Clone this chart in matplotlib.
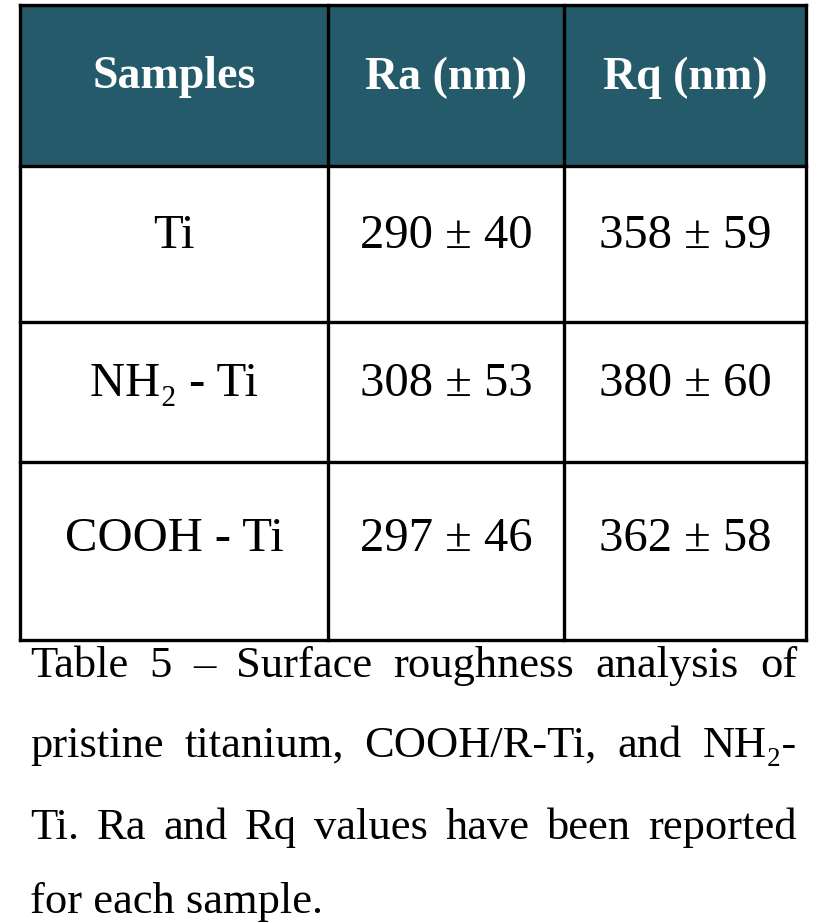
import matplotlib
matplotlib.use("Agg")
import matplotlib.pyplot as plt
from matplotlib.patches import Rectangle

# --- data -----------------------------------------------------------------
headers = ["Samples", "Ra (nm)", "Rq (nm)"]
samples = ["Ti", "NH\u2082 - Ti", "COOH - Ti"]
ra = [290, 308, 297]
ra_err = [40, 53, 46]
rq = [358, 380, 362]
rq_err = [59, 60, 58]
caption = [
    "Table 5 \u2013 Surface roughness analysis of",
    "pristine titanium, COOH/R-Ti,  and NH\u2082-",
    "Ti.  Ra and Rq values have been reported",
    "for each sample.",
]

# --- layout (pixel coords) ------------------------------------------------
W, H = 821, 923
HEAD_BG = "#245a69"
FONT = ["Liberation Serif", "DejaVu Serif"]
col_x = [20, 328, 564, 806]
row_y = [5, 166, 322, 462, 640]

fig = plt.figure(figsize=(W / 100, H / 100), dpi=100)
ax = fig.add_axes([0, 0, 1, 1])
ax.set_xlim(0, W)
ax.set_ylim(H, 0)
ax.set_axis_off()

ax.add_patch(Rectangle((col_x[0], row_y[0]), col_x[-1] - col_x[0], row_y[1] - row_y[0],
                       facecolor=HEAD_BG, edgecolor="none"))
for x in col_x:
    ax.plot([x, x], [row_y[0], row_y[-1]], color="black", lw=2.4, solid_capstyle="projecting")
for y in row_y:
    ax.plot([col_x[0], col_x[-1]], [y, y], color="black", lw=2.4, solid_capstyle="projecting")


def cx(i):
    return (col_x[i] + col_x[i + 1]) / 2


for i, h in enumerate(headers):
    ax.text(cx(i), (row_y[0] + row_y[1]) / 2 - 8, h, ha="center", va="center",
            fontsize=33, fontweight="bold", color="white", family=FONT)

for r in range(len(samples)):
    yc = (row_y[r + 1] + row_y[r + 2]) / 2 - 8
    if r == 2:
        yc -= 4
    cells = [samples[r], f"{ra[r]} \u00b1 {ra_err[r]}", f"{rq[r]} \u00b1 {rq_err[r]}"]
    for i, s in enumerate(cells):
        ax.text(cx(i), yc, s, ha="center", va="center", fontsize=35,
                color="black", family=FONT)

# --- justified caption ----------------------------------------------------
fig.canvas.draw()
renderer = fig.canvas.get_renderer()
left, right = 30, 797
base_y = [666, 746, 828, 902]
inv = ax.transData.inverted()
for li, line in enumerate(caption):
    words = line.split()
    if li == len(caption) - 1:
        ax.text(left, base_y[li], line, ha="left", va="center", fontsize=32, family=FONT)
        continue
    arts = [ax.text(0, base_y[li], w, ha="left", va="center", fontsize=32, family=FONT)
            for w in words]
    widths = []
    for a in arts:
        bb = a.get_window_extent(renderer)
        x0 = inv.transform((bb.x0, bb.y0))[0]
        x1 = inv.transform((bb.x1, bb.y0))[0]
        widths.append(x1 - x0)
    gap = (right - left - sum(widths)) / (len(words) - 1)
    x = left
    for a, w in zip(arts, widths):
        a.set_x(x)
        x += w + gap

fig.savefig("out.png", dpi=100, facecolor="white")
